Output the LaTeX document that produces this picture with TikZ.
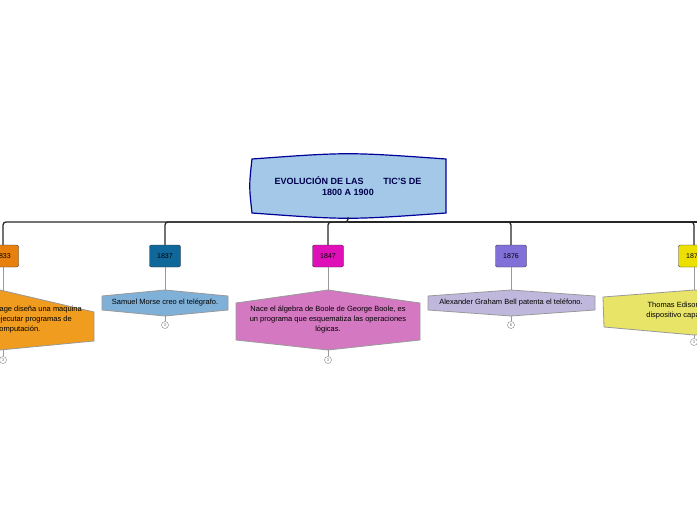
\documentclass[tikz,border=0pt]{standalone}
\usepackage{fontspec}
\setmainfont{Liberation Sans}
\definecolor{ctitle}{HTML}{A3C8E8}
\definecolor{cor}{HTML}{F09C1E}
\definecolor{cor2}{HTML}{E8800E}
\definecolor{cbl}{HTML}{7FB0D8}
\definecolor{cbl2}{HTML}{10689A}
\definecolor{cpk}{HTML}{D478C2}
\definecolor{cpk2}{HTML}{E010B8}
\definecolor{clv}{HTML}{BFB8DC}
\definecolor{clv2}{HTML}{8070D8}
\definecolor{cye}{HTML}{E8E468}
\definecolor{cye2}{HTML}{ECE000}
\begin{document}
\begin{tikzpicture}[x=1pt,y=-1pt,
  year/.style={draw=black!80,rounded corners=2pt,minimum width=31pt,minimum height=22pt,font=\fontsize{7}{8}\selectfont,inner sep=1pt},
  desc/.style={draw=black!40,line width=0.8pt},
  dtext/.style={font=\fontsize{7.5}{10}\selectfont,align=center},
  num/.style={draw=black!50,circle,inner sep=0.5pt,minimum size=7pt,font=\fontsize{4}{4}\selectfont,text=black!60,fill=white},
  conn/.style={draw=black!85,line width=1.3pt,rounded corners=3pt},
  thin/.style={draw=black!40,line width=0.6pt}]
\useasboundingbox (0,0) rectangle (697,520);
\clip (0,0) rectangle (697,520);
% title
\path[draw=blue!60!black,line width=1.2pt,fill=ctitle]
  (252,159) .. controls (348,152) .. (446,159) -- (446,213) .. controls (348,220) .. (252,213) .. controls (249,186) .. cycle;
\node[font=\bfseries\fontsize{9}{11}\selectfont,text=blue!30!black,align=center] (title) at (348,186) {EVOLUCIÓN DE LAS\hspace{2.2em}TIC'S DE\\1800 A 1900};
\coordinate (hub) at (348,217);
% years
\node[year,fill=cor2] (y1) at (3,256) {1833};
\node[year,fill=cbl2] (y2) at (165,256) {1837};
\node[year,fill=cpk2] (y3) at (328,256) {1847};
\node[year,fill=clv2] (y4) at (511,256) {1876};
\node[year,fill=cye2] (y5) at (694,256) {1879};
\draw[conn] (hub) -- (348,222) -| (y1.north);
\foreach \n in {y2,y3,y4,y5} \draw[conn] (348,222) -| (\n.north);
\draw[conn] (348,222) -- (697,222);
\foreach \a in {y1,y2,y3,y4,y5} \draw[thin] (\a.south) -- ++(0,24);
% descriptions
\path[desc,fill=cor] (-60,290) -- (0,290) -- (94,312) -- (94,341) -- (0,350) -- (-60,350) -- cycle;
\node[dtext] (d1) at (18,320) {Charles Babbage diseña una maquina\\capaz de ejecutar programas de\\computación.};
\path[desc,fill=cbl] (102,296) -- (165,290) -- (228,296) -- (228,310) -- (165,316) -- (102,310) -- cycle;
\node[dtext] (d2) at (165,303) {Samuel Morse creo el telégrafo.};
\path[desc,fill=cpk] (236,303) -- (328,290) -- (420,303) -- (420,340) -- (328,350) -- (236,340) -- cycle;
\node[dtext] (d3) at (328,320) {Nace el álgebra de Boole de George Boole, es\\un programa que esquematiza las operaciones\\lógicas.};
\path[desc,fill=clv] (428,296) -- (511,290) -- (595,296) -- (595,310) -- (511,316) -- (428,310) -- cycle;
\node[dtext] (d4) at (511,303) {Alexander Graham Bell patenta el teléfono.};
\path[desc,fill=cye] (603,297) -- (694,290) -- (760,297) -- (760,330) -- (694,335) -- (604,327) -- cycle;
\node[dtext] (d5) at (692,311) {Thomas Edison inventa un\\dispositivo capaz de grabar};
\node[num] (n1) at (3,360) {3};
\node[num] (n2) at (165,325) {3};
\node[num] (n3) at (328,360) {3};
\node[num] (n4) at (511,325) {6};
\node[num] (n5) at (694,342) {3};
\draw[thin] (3,350) -- (n1); \draw[thin] (165,316) -- (n2); \draw[thin] (328,350) -- (n3);
\draw[thin] (511,316) -- (n4); \draw[thin] (694,335) -- (n5);
\end{tikzpicture}
\end{document}
